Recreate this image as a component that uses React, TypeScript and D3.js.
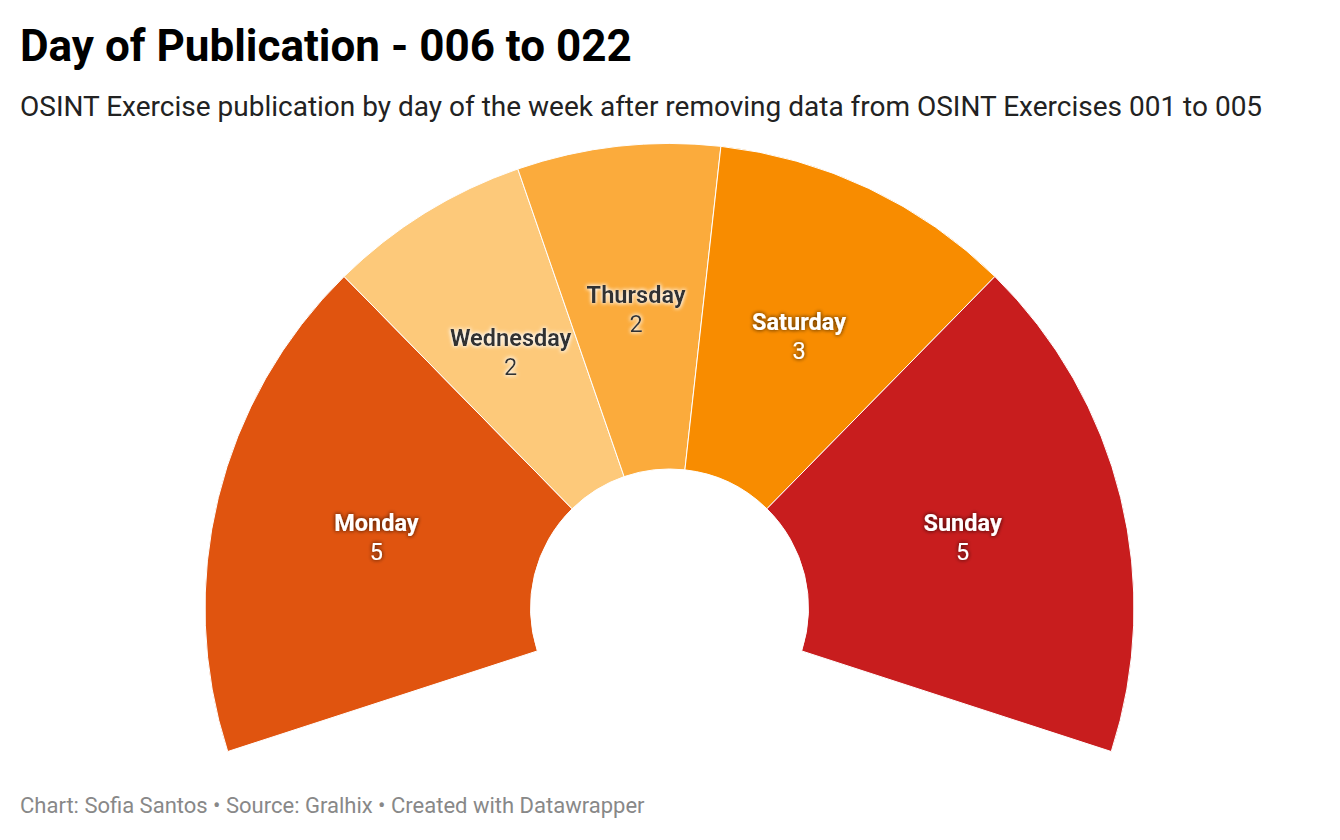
import { useEffect, useRef } from "react";
import * as d3 from "d3";

const days = ["Monday", "Wednesday", "Thursday", "Saturday", "Sunday"];
const counts = [5, 2, 2, 3, 5];
const colors = ["#e0540f", "#fdc97a", "#fbab3c", "#f88c00", "#c81d1e"];
const labelColors = ["#ffffff", "#333333", "#333333", "#ffffff", "#ffffff"];

const title = "Day of Publication - 006 to 022";
const subtitle =
  "OSINT Exercise publication by day of the week after removing data from OSINT Exercises 001 to 005";
const footer = "Chart: Sofia Santos • Source: Gralhix • Created with Datawrapper";

export default function App() {
  const svgRef = useRef<SVGSVGElement>(null);

  useEffect(() => {
    const svg = d3.select(svgRef.current);
    svg.selectAll("*").remove();

    const width = 1340;
    const height = 840;
    svg.attr("width", width).attr("height", height);

    const font = "Roboto, 'Noto Sans', sans-serif";

    // glow filters for labels
    const defs = svg.append("defs");
    const addGlow = (id: string, color: string, opacity: number) => {
      const f = defs
        .append("filter")
        .attr("id", id)
        .attr("x", "-20%")
        .attr("y", "-40%")
        .attr("width", "140%")
        .attr("height", "180%");
      f.append("feGaussianBlur").attr("in", "SourceAlpha").attr("stdDeviation", 2).attr("result", "blur");
      f.append("feFlood").attr("flood-color", color).attr("flood-opacity", opacity);
      f.append("feComposite").attr("in2", "blur").attr("operator", "in").attr("result", "glow");
      const m = f.append("feMerge");
      m.append("feMergeNode").attr("in", "glow");
      m.append("feMergeNode").attr("in", "glow");
      m.append("feMergeNode").attr("in", "SourceGraphic");
    };
    addGlow("glow-dark", "#000000", 0.45);
    addGlow("glow-light", "#ffffff", 0.9);

    svg.append("text")
      .attr("x", 20)
      .attr("y", 61)
      .attr("font-family", font)
      .attr("font-weight", 700)
      .attr("font-size", 44)
      .attr("fill", "#000")
      .text(title);

    svg.append("text")
      .attr("x", 20)
      .attr("y", 116)
      .attr("font-family", font)
      .attr("font-size", 28)
      .attr("fill", "#222")
      .text(subtitle);

    svg.append("text")
      .attr("x", 20)
      .attr("y", 813)
      .attr("font-family", font)
      .attr("font-size", 22)
      .attr("fill", "#888")
      .text(footer);

    // donut spanning 216 degrees
    const cx = 669.5;
    const cy = 608;
    const outerR = 464.5;
    const innerR = 139;
    const span = (108 * Math.PI) / 180;

    const pie = d3
      .pie<number>()
      .sort(null)
      .startAngle(-span)
      .endAngle(span);
    const arcs = pie(counts);

    const arc = d3.arc<d3.PieArcDatum<number>>().innerRadius(innerR).outerRadius(outerR);

    const g = svg.append("g").attr("transform", `translate(${cx},${cy})`);

    g.selectAll("path")
      .data(arcs)
      .enter()
      .append("path")
      .attr("d", arc)
      .attr("fill", (d, i) => colors[i])
      .attr("stroke", "#fff")
      .attr("stroke-width", 1);

    const labels = g
      .selectAll(".label")
      .data(arcs)
      .enter()
      .append("g")
      .attr("class", "label")
      .attr("transform", (d) => {
        const [x, y] = arc.centroid(d);
        return `translate(${x},${y})`;
      })
      .attr("filter", (d, i) => (labelColors[i] === "#ffffff" ? "url(#glow-dark)" : "url(#glow-light)"));

    labels
      .append("text")
      .attr("y", -5)
      .attr("text-anchor", "middle")
      .attr("font-family", font)
      .attr("font-weight", 700)
      .attr("font-size", 23.5)
      .attr("fill", (d, i) => labelColors[i])
      .text((d, i) => days[i]);

    labels
      .append("text")
      .attr("y", 24)
      .attr("text-anchor", "middle")
      .attr("font-family", font)
      .attr("font-size", 23.5)
      .attr("fill", (d, i) => labelColors[i])
      .text((d) => d.data);
  }, []);

  return (
    <svg
      ref={svgRef}
      style={{ position: "absolute", left: 0, top: 0, background: "#fff" }}
    />
  );
}
